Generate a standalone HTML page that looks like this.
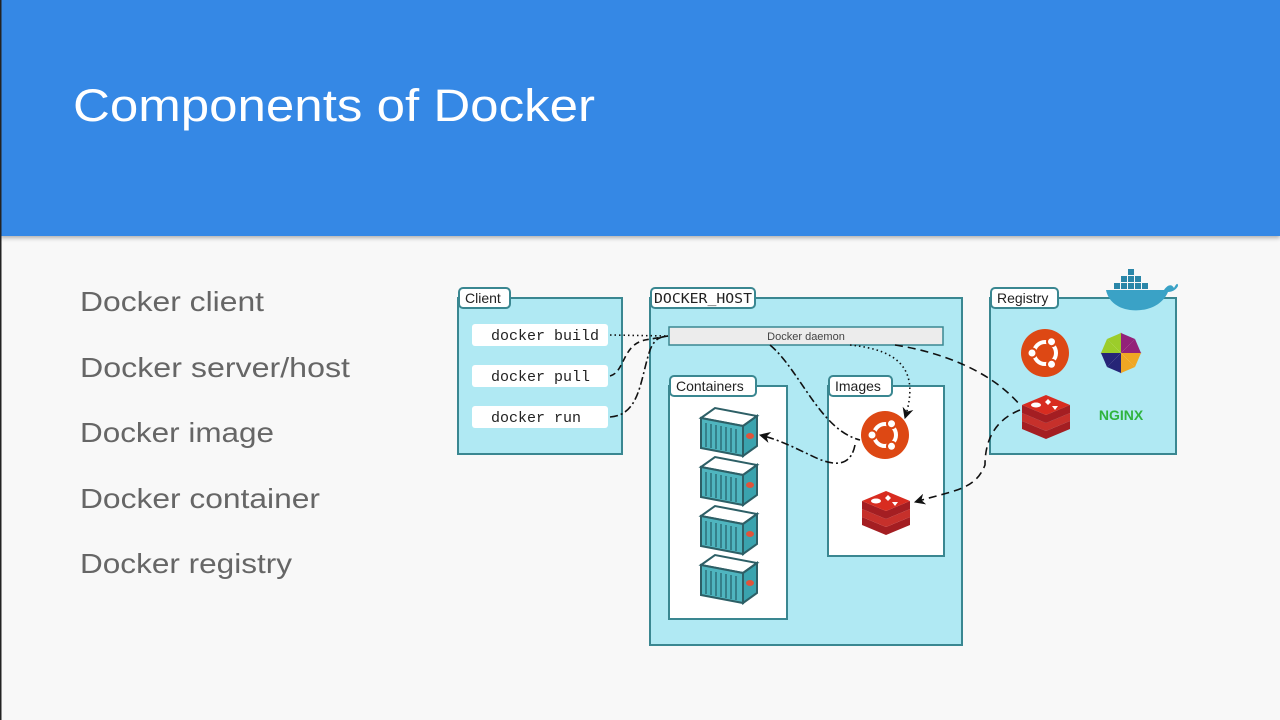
<!DOCTYPE html>
<html><head><meta charset="utf-8"><style>
html,body{margin:0;padding:0;width:1280px;height:720px;overflow:hidden;background:#f8f8f8}
svg{display:block}
</style></head><body>
<svg width="1280" height="720" viewBox="0 0 1280 720" xmlns="http://www.w3.org/2000/svg">
<defs>
<filter id="sh" x="-5%" y="-5%" width="110%" height="120%"><feDropShadow dx="0" dy="2" stdDeviation="2" flood-opacity="0.3"/></filter>
<marker id="ah" viewBox="0 0 10 10" refX="9" refY="5" markerWidth="7" markerHeight="7" orient="auto-start-reverse"><path d="M0,0 L10,5 L0,10 L3,5z" fill="#111"/></marker>
<g id="cont">
<path d="M0,10 L14,0 L56,8 L42,18z" fill="#fff" stroke="#2d5f66" stroke-width="2"/>
<path d="M0,10 L42,18 L42,48 L0,40z" fill="#4fb5bf" stroke="#2d5f66" stroke-width="2"/>
<path d="M42,18 L56,8 L56,38 L42,48z" fill="#3aa3ae" stroke="#2d5f66" stroke-width="2"/>
<path d="M5,15v24M10,16v24M15,17v24M20,18v24M25,19v24M30,20v24M35,21v24" stroke="#2d6f78" stroke-width="1.5"/>
<ellipse cx="49" cy="28" rx="4" ry="3" fill="#e0533a"/>
</g>
<g id="redis">
<path d="M0,22 L24,32 L48,22 L48,30 L24,40 L0,30z" fill="#a41e22"/>
<path d="M0,14 L24,24 L48,14 L48,22 L24,32 L0,22z" fill="#c6302b"/>
<path d="M0,6 L24,16 L48,6 L48,14 L24,24 L0,14z" fill="#a41e22"/>
<path d="M0,6 L24,-4 L48,6 L24,16z" fill="#d82c20"/>
<ellipse cx="14" cy="6" rx="5" ry="2.5" fill="#fff"/>
<path d="M26,0 l3,3 l-3,3 l-3,-3z" fill="#fff"/>
<path d="M30,7 l6,0 l-3,4z" fill="#fff"/>
</g>
<g id="ubu">
<circle r="24" fill="#dd4814"/>
<circle r="11" fill="none" stroke="#fff" stroke-width="4"/>
<circle cx="-13" cy="0" r="4.5" fill="#fff" stroke="#dd4814" stroke-width="2"/>
<circle cx="6.5" cy="-11.3" r="4.5" fill="#fff" stroke="#dd4814" stroke-width="2"/>
<circle cx="6.5" cy="11.3" r="4.5" fill="#fff" stroke="#dd4814" stroke-width="2"/>
</g>
</defs>

<rect x="0" y="0" width="1280" height="236" fill="#3588e5" filter="url(#sh)"/>
<rect x="0" y="0" width="1.5" height="720" fill="#222"/>
<text x="73" y="121" font-family="Liberation Sans, sans-serif" font-size="45" fill="#fff" textLength="522" lengthAdjust="spacingAndGlyphs">Components of Docker</text>

<g font-family="Liberation Sans, sans-serif" font-size="28" fill="#666">
<text x="80" y="311" textLength="184" lengthAdjust="spacingAndGlyphs">Docker client</text>
<text x="80" y="377" textLength="270" lengthAdjust="spacingAndGlyphs">Docker server/host</text>
<text x="80" y="442" textLength="194" lengthAdjust="spacingAndGlyphs">Docker image</text>
<text x="80" y="508" textLength="240" lengthAdjust="spacingAndGlyphs">Docker container</text>
<text x="80" y="573" textLength="212" lengthAdjust="spacingAndGlyphs">Docker registry</text>
</g>

<g stroke="#3a8791" stroke-width="2">
<rect x="458" y="298" width="164" height="156" fill="#b0e9f3"/>
<rect x="650" y="298" width="312" height="347" fill="#b0e9f3"/>
<rect x="990" y="298" width="186" height="156" fill="#b0e9f3"/>
<rect x="669" y="386" width="118" height="233" fill="#fff"/>
<rect x="828" y="386" width="116" height="170" fill="#fff"/>
<rect x="669" y="327" width="274" height="18" fill="#ececec" stroke-width="1.5"/>
<rect x="459" y="288" width="51" height="20" rx="4" fill="#fff"/>
<rect x="651" y="288" width="104" height="20" rx="4" fill="#fff"/>
<rect x="991" y="288" width="67" height="20" rx="4" fill="#fff"/>
<rect x="670" y="376" width="86" height="20" rx="4" fill="#fff"/>
<rect x="829" y="376" width="63" height="20" rx="4" fill="#fff"/>
</g>
<g fill="#fff">
<rect x="472" y="324" width="136" height="22" rx="3"/>
<rect x="472" y="365" width="136" height="22" rx="3"/>
<rect x="472" y="406" width="136" height="22" rx="3"/>
</g>
<g font-family="Liberation Sans, sans-serif" font-size="14" fill="#222">
<text x="465" y="303">Client</text>
<text x="676" y="391">Containers</text>
<text x="835" y="391">Images</text>
<text x="997" y="303">Registry</text>
</g>
<text x="654" y="303" font-family="DejaVu Sans Mono, monospace" font-size="13" fill="#222" textLength="98" lengthAdjust="spacingAndGlyphs">DOCKER_HOST</text>
<text x="806" y="340" font-family="Liberation Sans, sans-serif" font-size="11" fill="#444" text-anchor="middle">Docker daemon</text>
<g font-family="Liberation Mono, monospace" font-size="15" fill="#222">
<text x="491" y="340">docker build</text>
<text x="491" y="381">docker pull</text>
<text x="491" y="422">docker run</text>
</g>

<g fill="none" stroke="#111" stroke-width="1.6">
<path d="M610,335 L668,336" stroke-dasharray="1.5,3"/>
<path d="M610,376 C625,372 622,345 645,340 L668,336" stroke-dasharray="6,4"/>
<path d="M610,417 C640,415 640,380 650,350 C655,338 660,337 668,336" stroke-dasharray="8,3,2,3"/>
<path d="M770,345 C800,370 820,430 860,440" stroke-dasharray="8,3,2,3"/>
<path d="M855,445 C850,470 830,465 810,455 C795,448 780,440 760,435" stroke-dasharray="8,3,2,3" marker-end="url(#ah)"/>
<path d="M850,345 C900,350 920,370 905,418" stroke-dasharray="1.5,3" marker-end="url(#ah)"/>
<path d="M895,345 C940,352 990,370 1020,405" stroke-dasharray="8,5"/>
<path d="M1020,410 C995,420 985,440 985,465 C975,490 955,490 915,502" stroke-dasharray="8,5" marker-end="url(#ah)"/>
</g>

<use href="#cont" x="701" y="408"/>
<use href="#cont" x="701" y="457"/>
<use href="#cont" x="701" y="506"/>
<use href="#cont" x="701" y="555"/>
<use href="#ubu" x="885" y="435"/>
<use href="#redis" x="862" y="495"/>
<use href="#ubu" x="1045" y="353"/>
<use href="#redis" x="1022" y="399"/>

<!-- centos-ish -->
<g transform="translate(1121,353)">
<path d="M-20,0 L0,-20 L20,0 L0,20z" fill="#fff" stroke="#bbb"/>
<path d="M0,0 L-14,-14 L0,-20z" fill="#9ccd2a"/>
<path d="M0,0 L0,-20 L14,-14z" fill="#932279"/>
<path d="M0,0 L14,-14 L20,0z" fill="#932279"/>
<path d="M0,0 L20,0 L14,14z" fill="#efa724"/>
<path d="M0,0 L14,14 L0,20z" fill="#efa724"/>
<path d="M0,0 L0,20 L-14,14z" fill="#262577"/>
<path d="M0,0 L-14,14 L-20,0z" fill="#262577"/>
<path d="M0,0 L-20,0 L-14,-14z" fill="#9ccd2a"/>
</g>
<text x="1121" y="420" font-family="Liberation Sans, sans-serif" font-weight="bold" font-size="14" fill="#2fb43e" text-anchor="middle">NGINX</text>

<!-- whale -->
<g transform="translate(1106,270)" fill="#3aa2c6">
<path d="M0,20 L58,20 C62,14 66,14 68,18 C70,14 72,12 72,16 C70,20 66,22 62,22 C56,36 40,42 24,40 C10,38 2,30 0,20z"/>
<g fill="#2a86a8"><rect x="8" y="13" width="6" height="6"/><rect x="15" y="13" width="6" height="6"/><rect x="22" y="13" width="6" height="6"/><rect x="29" y="13" width="6" height="6"/><rect x="36" y="13" width="6" height="6"/><rect x="15" y="6" width="6" height="6"/><rect x="22" y="6" width="6" height="6"/><rect x="29" y="6" width="6" height="6"/><rect x="22" y="-1" width="6" height="6"/></g>
</g>
</svg>
</body></html>
